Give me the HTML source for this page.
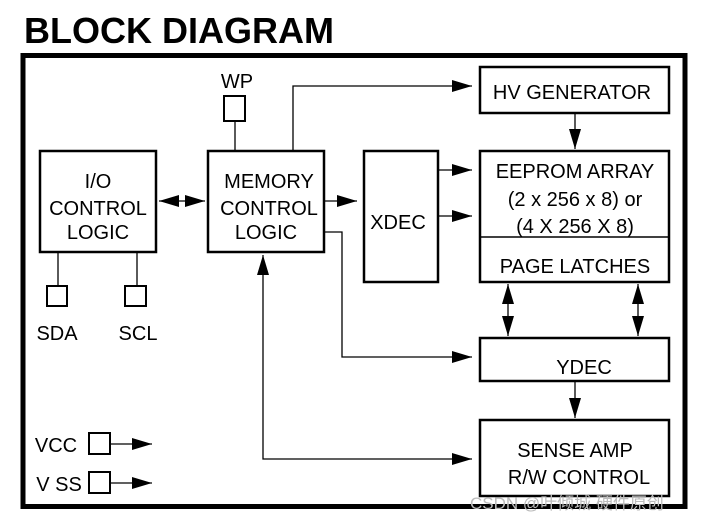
<!DOCTYPE html>
<html><head><meta charset="utf-8"><style>
html,body{margin:0;padding:0;background:#fff;width:702px;height:523px;overflow:hidden}
svg{display:block}
text{font-family:"Liberation Sans",Arial,sans-serif;fill:#000}
</style></head><body>
<svg width="702" height="523" viewBox="0 0 702 523">
<defs>
<marker id="b" viewBox="0 0 10 10" refX="10" refY="5" markerWidth="20" markerHeight="12" markerUnits="userSpaceOnUse" orient="auto-start-reverse" preserveAspectRatio="none"><path d="M0,0 L10,5 L0,10 Z" fill="#000"/></marker>
</defs>
<text x="24" y="43" font-size="36" font-weight="bold">BLOCK DIAGRAM</text>
<rect x="23" y="55.5" width="662" height="451" fill="none" stroke="#000" stroke-width="5"/>
<g fill="none" stroke="#000" stroke-width="2.5">
<rect x="40" y="151" width="116" height="101"/>
<rect x="208" y="151" width="116" height="101"/>
<rect x="364" y="151" width="74" height="131"/>
<rect x="480" y="67" width="189" height="46"/>
<rect x="480" y="151" width="189" height="131"/>
<rect x="480" y="338" width="189" height="43"/>
<rect x="480" y="420" width="189" height="76"/>
<rect x="224" y="96" width="21" height="25" stroke-width="2"/>
<rect x="47" y="286" width="20" height="20" stroke-width="2"/>
<rect x="125" y="286" width="21" height="20" stroke-width="2"/>
<rect x="89" y="433" width="21" height="21" stroke-width="2"/>
<rect x="89" y="472" width="21" height="21" stroke-width="2"/>
</g>
<line x1="480" y1="237" x2="669" y2="237" stroke="#000" stroke-width="1.5"/>
<g fill="none" stroke="#000" stroke-width="1.3">
<line x1="235" y1="121" x2="235" y2="151"/>
<line x1="58" y1="252" x2="58" y2="286"/>
<line x1="137" y1="252" x2="137" y2="286"/>
<polyline points="293,151 293,86 472,86" marker-end="url(#b)"/>
<line x1="575" y1="113" x2="575" y2="149" marker-end="url(#b)"/>
<line x1="438" y1="170" x2="472" y2="170" marker-end="url(#b)"/>
<line x1="438" y1="216" x2="472" y2="216" marker-end="url(#b)"/>
<line x1="324" y1="201" x2="357" y2="201" marker-end="url(#b)"/>
<line x1="159" y1="201" x2="205" y2="201" marker-start="url(#b)" marker-end="url(#b)"/>
<polyline points="324,232 342,232 342,357 472,357" marker-end="url(#b)"/>
<polyline points="472,459 263,459 263,255" marker-start="url(#b)" marker-end="url(#b)"/>
<line x1="508" y1="284" x2="508" y2="336" marker-start="url(#b)" marker-end="url(#b)"/>
<line x1="638" y1="284" x2="638" y2="336" marker-start="url(#b)" marker-end="url(#b)"/>
<line x1="575" y1="381" x2="575" y2="418" marker-end="url(#b)"/>
<line x1="110" y1="444" x2="152" y2="444" marker-end="url(#b)"/>
<line x1="110" y1="483" x2="152" y2="483" marker-end="url(#b)"/>
</g>
<g font-size="20" text-anchor="middle">
<text x="237" y="88">WP</text>
<text x="98" y="188">I/O</text>
<text x="98" y="215">CONTROL</text>
<text x="98" y="239">LOGIC</text>
<text x="269" y="188">MEMORY</text>
<text x="269" y="215">CONTROL</text>
<text x="266" y="239">LOGIC</text>
<text x="398" y="229">XDEC</text>
<text x="572" y="99">HV GENERATOR</text>
<text x="575" y="178">EEPROM ARRAY</text>
<text x="575" y="206">(2 x 256 x 8) or</text>
<text x="575" y="233">(4 X 256 X 8)</text>
<text x="575" y="273">PAGE LATCHES</text>
<text x="584" y="374">YDEC</text>
<text x="575" y="457">SENSE AMP</text>
<text x="579" y="484">R/W CONTROL</text>
<text x="57" y="340">SDA</text>
<text x="138" y="340">SCL</text>
<text x="56" y="452">VCC</text>
<text x="59" y="491">V SS</text>
</g>
<text x="470" y="509" font-size="17" style="fill:#bbbbbb;font-family:'Liberation Sans','Noto Sans CJK SC',sans-serif">CSDN @叶倾城 硬件原创</text>
</svg>
</body></html>
